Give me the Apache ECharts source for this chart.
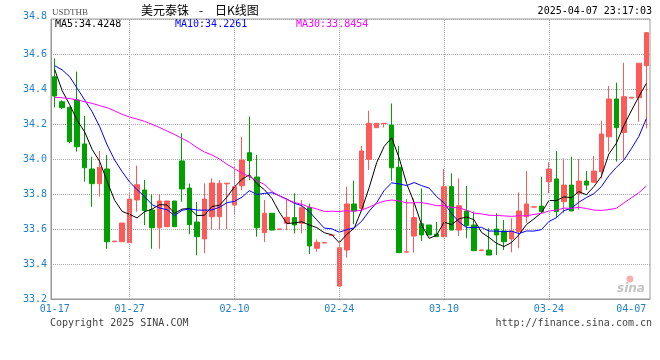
<!DOCTYPE html>
<html><head><meta charset="utf-8">
<script src="https://cdn.jsdelivr.net/npm/echarts@6/dist/echarts.min.js"></script>
<style>html,body{margin:0;padding:0;background:#fff}#c{width:660px;height:360px}</style>
</head><body><div id="c"></div>
<script>
const dates = ['01-17','01-18','01-19','01-20','01-21','01-22','01-23','01-24','01-25','01-26','01-27','01-28','01-29','01-30','01-31',
'02-01','02-02','02-03','02-04','02-05','02-06','02-07','02-08','02-09','02-10','02-11','02-12','02-13','02-14','02-15','02-16','02-17','02-18','02-19','02-20','02-21','02-22','02-23','02-24','02-25','02-26','02-27','02-28',
'03-01','03-02','03-03','03-04','03-05','03-06','03-07','03-08','03-09','03-10','03-11','03-12','03-13','03-14','03-15','03-16','03-17','03-18','03-19','03-20','03-21','03-22','03-23','03-24','03-25','03-26','03-27','03-28','03-29','03-30','03-31',
'04-01','04-02','04-03','04-05','04-06','04-07'];
const opens = [34.470,34.327,34.295,34.337,34.086,33.943,33.859,33.943,33.527,33.527,
33.522,33.766,33.823,33.709,33.607,33.613,33.760,33.989,33.834,33.640,
33.543,33.670,33.670,33.858,33.737,33.847,34.036,33.897,33.579,33.690,
33.598,33.633,33.665,33.633,33.722,33.490,33.520,33.564,33.274,33.480,
33.743,33.718,33.998,34.179,34.202,34.194,33.953,33.468,33.560,33.630,
33.623,33.571,33.556,33.842,33.594,33.703,33.623,33.478,33.480,33.600,
33.589,33.543,33.585,33.670,33.725,33.731,33.870,33.886,33.756,33.851,
33.804,33.874,33.867,33.927,34.127,34.343,34.152,34.348,34.350,34.533];
const closes = [34.360,34.293,34.099,34.070,33.950,33.859,33.953,33.527,33.531,33.634,
33.771,33.853,33.705,33.607,33.760,33.760,33.613,33.829,33.625,33.556,
33.771,33.863,33.861,33.862,33.842,33.994,33.990,33.607,33.690,33.594,
33.600,33.667,33.623,33.722,33.503,33.524,33.522,33.566,33.493,33.743,
33.703,34.046,34.204,34.204,34.204,33.950,33.465,33.470,33.665,33.566,
33.566,33.556,33.842,33.594,33.733,33.619,33.476,33.480,33.451,33.566,
33.527,33.589,33.703,33.743,33.727,33.699,33.943,33.699,33.851,33.703,
33.874,33.851,33.931,34.143,34.343,34.179,34.356,34.353,34.547,34.722];
const lows = [34.295,34.285,34.090,34.042,33.870,33.727,33.785,33.487,33.527,33.527,
33.522,33.699,33.623,33.487,33.487,33.613,33.613,33.756,33.570,33.450,
33.461,33.594,33.594,33.600,33.680,33.823,33.880,33.556,33.526,33.594,
33.598,33.594,33.575,33.575,33.457,33.470,33.520,33.564,33.274,33.436,
33.627,33.700,33.937,34.179,34.180,33.876,33.465,33.468,33.465,33.531,
33.566,33.556,33.556,33.594,33.560,33.547,33.476,33.478,33.451,33.451,
33.480,33.467,33.490,33.636,33.725,33.699,33.804,33.665,33.690,33.703,
33.709,33.823,33.867,33.889,34.042,33.985,33.994,34.348,34.213,34.175];
const highs = [34.575,34.335,34.300,34.499,34.246,34.013,34.046,34.023,33.531,33.634,
33.804,33.962,33.880,33.798,33.800,33.760,33.760,34.147,33.860,33.754,
33.861,33.890,33.880,33.862,33.956,34.127,34.242,34.023,33.766,33.690,
33.600,33.766,33.804,33.766,33.745,33.540,33.522,33.566,33.537,33.842,
33.876,34.074,34.276,34.204,34.204,34.317,34.074,33.770,33.775,33.832,
33.623,33.640,33.943,33.918,33.889,33.846,33.700,33.480,33.604,33.690,
33.651,33.661,33.809,33.931,33.727,33.899,33.981,34.046,34.003,34.013,
33.999,33.931,34.017,34.219,34.417,34.436,34.550,34.353,34.547,34.722];
// moving-average values before a full window exists
const ma5Head = [34.51,34.39,34.31,34.22];
const ma10Head = [34.533,34.509,34.470,34.404,34.337,34.270,34.185,34.080,33.994];
const ma30Head = [34.353,34.350,34.345,34.338,34.327,34.318,34.305,34.293,34.275,34.255,34.240,34.228,34.215,34.198,34.180,34.160,34.140,34.118,34.095,34.065,34.040,34.023,34.000,33.970,33.945,33.920,33.899,33.875,33.855];
const labelDates = ['01-17','01-27','02-10','02-24','03-10','03-24','04-07'];
const gridDates = ['01-27','02-10','02-24','03-10','03-24'];
const maTexts = ['MA5:34.4248','MA10:34.2261','MA30:33.8454'];
const yMin = 33.2, yMax = 34.8, yStep = 0.2;

function ma(n, head){
  const out = [];
  for (let i = 0; i < closes.length; i++) {
    if (i < n - 1) { out.push(head[i]); continue; }
    let s = 0; for (let j = i - n + 1; j <= i; j++) s += closes[j];
    out.push(+(s / n).toFixed(4));
  }
  return out;
}
const kData = dates.map((d, i) => [opens[i], closes[i], lows[i], highs[i]]);
const mono = '"DejaVu Sans Mono", monospace';
const RED = '#FF5A5A', GREEN = '#00A000', AX = '#1E7FCF';
function txt(text, x, y, opt) {
  return Object.assign({type: 'text', x: x, y: y, silent: true, style: Object.assign({
    text: text, font: '10px ' + mono, fill: '#000', textAlign: 'left', align: 'left',
    textVerticalAlign: 'middle', verticalAlign: 'middle'}, opt || {})});
}
const chart = echarts.init(document.getElementById('c'), null, {renderer: 'canvas'});
chart.setOption({
  animation: false,
  backgroundColor: '#fff',
  grid: {left: 51, right: 10, top: 19, bottom: 61, show: true, borderColor: '#999', borderWidth: 1},
  xAxis: {
    type: 'category', data: dates, boundaryGap: true,
    axisLine: {show: true, lineStyle: {color: '#999'}},
    axisTick: {show: false},
    splitLine: {show: false},
    axisLabel: {
      interval: (idx, val) => labelDates.indexOf(val) >= 0,
      color: AX, fontFamily: mono, fontSize: 10, margin: 5,
      alignMinLabel: 'center', alignMaxLabel: 'right', showMinLabel: true, showMaxLabel: true
    }
  },
  yAxis: {
    type: 'value', min: yMin, max: yMax, interval: yStep, scale: true,
    axisLine: {show: true, lineStyle: {color: '#999'}},
    axisTick: {show: false},
    axisLabel: {
      formatter: v => (Math.abs(v - yMax) < 1e-6 ? '{top|' + v.toFixed(1) + '}' : v.toFixed(1)),
      color: AX, fontFamily: mono, fontSize: 10, margin: 4,
      rich: {top: {color: AX, fontFamily: mono, fontSize: 10, padding: [0, 0, 6, 0]}}
    },
    splitLine: {show: true, lineStyle: {color: '#aaa', type: 'dotted'}}
  },
  series: [
    {
      type: 'candlestick', data: kData, barWidth: 5,
      itemStyle: {color: RED, color0: GREEN, borderColor: RED, borderColor0: GREEN, borderWidth: 1},
      markLine: {
        silent: true, symbol: ['none', 'none'], label: {show: false},
        lineStyle: {color: '#aaa', type: 'dotted', width: 1},
        data: gridDates.map(d => ({xAxis: d}))
      }
    },
    {type: 'line', data: ma(5, ma5Head), showSymbol: false, symbol: 'none', lineStyle: {color: '#000', width: 1}, itemStyle: {color: '#000'}},
    {type: 'line', data: ma(10, ma10Head), showSymbol: false, symbol: 'none', lineStyle: {color: '#0000FF', width: 1}, itemStyle: {color: '#0000FF'}},
    {type: 'line', data: ma(30, ma30Head), showSymbol: false, symbol: 'none', lineStyle: {color: '#FF00FF', width: 1}, itemStyle: {color: '#FF00FF'}}
  ],
  graphic: [
    txt('USDTHB', 52, 12.5, {font: '9px "Liberation Serif", serif', fill: '#555'}),
    txt('美元泰铢', 141, 10, {font: '12px "Noto Sans CJK SC"'}),
    txt('-', 199, 10, {font: '12px "Noto Sans CJK SC"'}),
    txt('日K线图', 215, 10, {font: '12px "Noto Sans CJK SC"'}),
    txt('2025-04-07 23:17:03', 652, 11.5, {textAlign: 'right', align: 'right'}),
    txt(maTexts[0], 55, 24, {fill: '#000'}),
    txt(maTexts[1], 175, 24, {fill: '#0000FF'}),
    txt(maTexts[2], 296, 24, {fill: '#FF00FF'}),
    txt('Copyright 2025 SINA.COM', 50, 323, {fill: '#444'}),
    txt('http://finance.sina.com.cn', 652, 323, {fill: '#444', textAlign: 'right', align: 'right'}),
    {type: 'circle', shape: {cx: 630, cy: 279, r: 3.5}, silent: true, style: {fill: '#f7b0b0'}},
    txt('sina', 617, 289, {font: 'italic bold 12px "DejaVu Sans"', fill: '#c4c4c4'})
  ]
});
</script></body></html>
